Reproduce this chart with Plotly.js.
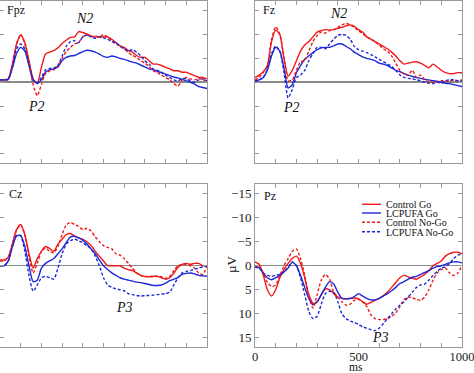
<!DOCTYPE html>
<html>
<head>
<meta charset="utf-8">
<script src="https://cdn.plot.ly/plotly-3.0.1.min.js"></script>
<style>html,body{margin:0;padding:0;background:#fff;}#chart{width:474px;height:373px;}</style>
</head>
<body>
<div id="chart"></div>
<script>
// time axis (ms)
const t = [];
for (let i = 0; i <= 50; i++) t.push(i * 20);

const seriesNames = ["Control Go", "LCPUFA Go", "Control No-Go", "LCPUFA No-Go"];
const channels = ["Fpz", "Fz", "Cz", "Pz"];
const yTicks = [-15, -10, -5, 0, 5, 10, 15];
const xTickLabels = {0: "0", 500: "500", 1000: "1000"};

// Fpz (µV)
const fpzCG = [-0.5,-0.5,-0.7,-3.8,-8,-9.9,-8.3,-4.5,-0.7,0.3,-3.1,-5.9,-6.3,-6.6,-7.2,-8.1,-8.8,-9.4,-9.5,-10.6,-10.4,-10.1,-9.7,-9.5,-9.4,-9.5,-9.5,-9,-8.3,-7.6,-7.3,-6.6,-6.3,-5.6,-5.2,-5.2,-4.5,-3.8,-3.8,-3.5,-3.1,-2.8,-2.4,-2.4,-2.1,-2.1,-1.7,-1.4,-1,-1,-0.7];
const fpzLG = [-0.5,-0.5,-0.6,-3,-6,-7.3,-6.5,-3.5,-0.5,0.2,-0.5,-2.1,-2.6,-2.8,-3.2,-4.5,-5.2,-5.5,-5.6,-6,-6.4,-6.7,-6.6,-6.3,-5.9,-5.4,-5.2,-5.5,-5.3,-5,-4.8,-4.5,-4.2,-4,-3.6,-3.2,-2.8,-2.6,-2.3,-2,-1.7,-1.4,-1.1,-0.9,-0.6,-0.3,0,0.4,0.9,1.1,1.3];
const fpzCN = [-0.5,-0.5,-0.7,-3.5,-8,-10,-8,-4,0.5,2.8,0.5,-1.8,-2.4,-2.6,-3.5,-5,-6.4,-7.3,-8,-8.3,-9.5,-9.9,-9.5,-9.7,-9.5,-9.9,-9.5,-8.7,-8,-7.6,-7,-6.2,-5.6,-5.2,-4.5,-4,-3.3,-2.4,-2,-1.5,-1,-0.5,0.3,0.8,-0.5,-1,-0.7,-0.5,-0.8,-0.5,-0.3];
const fpzLN = [-0.5,-0.5,-0.6,-3.2,-7,-8,-7,-3.8,-0.5,0.3,-1,-2.6,-2.9,-3,-3.5,-5.5,-7.5,-8.5,-8.7,-8.3,-9.5,-9.9,-9.5,-9.2,-9.5,-9.3,-9,-8.5,-8.3,-7.5,-7,-6.6,-6.8,-6.3,-5.5,-4.5,-3.8,-2.8,-2.5,-2.1,-1.5,-1,-0.5,-0.3,-0.8,-0.7,-0.3,0,-0.5,-0.7,-0.3];

// Fz (µV)
const fzCG = [-1,-1.5,-2.2,-3.5,-8.5,-10.9,-10,-5,-1.3,-2.5,-4.5,-6.5,-7.8,-8.5,-9.5,-10.5,-10.8,-11,-10.9,-11,-11.3,-11.5,-11.8,-12,-11.7,-11,-10.5,-9.5,-9,-8.5,-8,-7.5,-7,-6.3,-5.5,-4.5,-3.8,-4,-4.2,-4.3,-4,-3.5,-3,-3.8,-3.2,-2.5,-2,-1.8,-1.8,-2,-2];
const fzLG = [-0.3,-0.5,-1,-2.5,-5.5,-7.3,-6.5,-3,1.2,0.5,-2,-3.5,-4.8,-5.5,-6.2,-6.8,-7.2,-7.3,-7.3,-7.6,-8,-8,-7.5,-7,-6.3,-5.8,-5.3,-5,-4.8,-4.5,-4,-3.8,-3.5,-3,-2.5,-2.2,-1.8,-1.5,-1.2,-1,-0.8,-0.6,-0.5,-0.3,-0.2,0,0.2,0.3,0.5,0.7,0.9];
const fzCN = [-0.5,-1,-2,-3.5,-9,-11.6,-10,-5,-0.3,-0.5,-2.5,-4.3,-4.5,-6.5,-8.5,-9.8,-10.5,-10.3,-10.8,-11,-11.5,-12,-12.3,-12,-11.5,-10.8,-10.2,-9.5,-9,-8.5,-7.8,-7,-6.5,-5.5,-4,-2.5,-1.7,-1.5,-2.5,-1,-1.5,-0.5,0,0,0,-0.3,-0.3,-0.2,-0.5,-0.3,-0.5];
const fzLN = [0,-0.5,-1,-2.8,-6,-7.6,-6.5,-2,3.3,1.5,-1,-1.5,-2.5,-4.5,-6,-7.3,-7.3,-7,-8,-9,-9.8,-10,-9.8,-9,-7.5,-6.8,-6.5,-6.2,-5.8,-5.3,-4.8,-4.3,-3.8,-3.3,-2.5,-1.5,-1,-0.8,-0.7,-0.5,-0.3,0,0.2,0.3,0,0.2,-0.3,-0.5,-0.5,-0.3,-0.3];

// Cz (µV)
const czCG = [-1.2,-1.2,-1.8,-4.5,-7.5,-8.6,-6.5,-2.5,0.5,-1.5,-3,-4,-3.6,-3,-4.5,-5.5,-6.5,-6.7,-6.2,-5.8,-5.5,-5,-4.2,-3,-2,-1,0,0,0,0,0.5,0.8,1,1.5,2,2.2,2.3,2.2,2.2,2.5,2.8,2.5,1.5,0.3,-0.3,-0.5,-0.3,-0.5,-0.5,0,0];
const czLG = [0,0,-1,-4,-6.2,-6.3,-4,0,3.3,3,0.5,-0.5,-1,-1.5,-2.5,-3.5,-4.8,-6,-6.1,-5.8,-5.3,-4.5,-3.5,-2.5,-1.2,0,0.8,1.5,2,2.5,2.8,3,3.2,3.4,3.5,3.7,3.9,4.1,4.1,4,3.6,3.1,2.8,2.4,1.8,1.6,1.5,1.7,2,2.1,2.2];
const czCN = [-1,-1,-1.8,-4.5,-7.5,-8.5,-6.3,-2,1.5,-0.5,-3,-3.7,-3,-2.7,-4,-6.5,-8.5,-9,-8.6,-8.2,-7.5,-7.8,-7.2,-6,-5,-4.2,-3.8,-3.5,-2.5,-2.2,-1.5,-0.5,0.5,1.5,2,2.3,2.2,2.3,2.2,2.3,2.6,2.2,1,0,-0.3,-0.2,0,0.5,1.5,1.8,0];
const czLN = [0,0,-1,-4,-6.3,-6.2,-3,2,5.3,4,2.5,2.2,2.5,2.8,0.5,-2.5,-4.5,-5.2,-5.5,-5.2,-4.8,-4.2,-3.5,-2,0,2.5,4,4.5,4.8,5,5.2,5.8,6,6.2,6.3,6.2,6.2,6.1,6,5.9,5.8,5.5,4,2.5,1.5,1.2,1,0.7,0.5,0.2,0];

// Pz (µV)
const pzCG = [-0.8,-0.3,2,5,6.3,5,2.5,0.8,-0.5,-1.5,-2,-0.5,2.5,6,7.8,7.6,6,4.8,5,5.8,6.5,6.8,6.9,6.8,6.7,6.9,7.5,8,7.6,7.2,6.8,6.2,5.5,4.5,3.5,2.5,2,2.3,2.6,2.8,2.3,1.8,1,0,-0.5,-1,-2,-2.5,-2.8,-2.8,-2.5];
const pzLG = [0.2,0.4,1.5,2.5,2.9,2.5,2,1.3,0.5,-0.7,0,2,4.5,6.8,8.1,7.5,6,4.5,3.3,3.8,5.5,6.8,6.9,6.8,6.4,5.8,6.3,6.8,7.1,7.1,6.8,6.3,5.8,5.2,4.5,3.7,3.3,2.8,2.4,2.2,1.8,1.4,1,0.5,0.2,0,-0.3,-0.6,-0.8,-0.8,-0.6];
const pzCN = [0.2,0,1.5,3.5,4.3,4,2,0,-1.5,-3,-3.5,-1.5,2,6.5,8.8,6,3,1.8,2.8,5.5,6.5,7.5,8.2,8,7.2,7,7.5,8.5,10.2,11,11.2,11.2,11,10.5,9.8,8.5,7,6.5,6.7,7,7.2,6.5,5,3,1.5,0.8,0.5,1.5,2,1.5,0];
const pzLN = [0.3,0.5,1.5,2,2.2,2,1.8,1.2,0.3,-0.8,0,2.5,6,9.5,11,10.5,8,5.8,5.3,5.5,7.5,10,11,11.5,11.8,12.2,12.7,13,13.3,13.5,13,12,11,10,9,8.2,7.5,6.5,5.5,4.5,4,3.8,3,2,1.2,0.5,0.2,-0.5,-1.5,-2.2,-2.4];

const data = {
  Fpz: [fpzCG, fpzLG, fpzCN, fpzLN],
  Fz: [fzCG, fzLG, fzCN, fzLN],
  Cz: [czCG, czLG, czCN, czLN],
  Pz: [pzCG, pzLG, pzCN, pzLN]
};

const W = 474, H = 373;
const px = x => x / W;
const py = y => 1 - y / H;

const RED = "#f01818", BLUE = "#1c28d8";
const styles = [
  {color: RED, dash: "solid"},
  {color: BLUE, dash: "solid"},
  {color: RED, dash: "3px,2px"},
  {color: BLUE, dash: "3px,2px"}
];

const traces = [];
channels.forEach((ch, ci) => {
  const sfx = ci === 0 ? "" : String(ci + 1);
  data[ch].forEach((vals, si) => {
    traces.push({
      x: t, y: vals, type: "scatter", mode: "lines",
      name: seriesNames[si], showlegend: false,
      xaxis: "x" + sfx, yaxis: "y" + sfx,
      line: {color: styles[si].color, dash: styles[si].dash, width: 1.4, shape: "spline", smoothing: 0.6},
      hoverinfo: "skip"
    });
  });
});

const serif = "Liberation Serif";
const frame = "#9a9a9a";
const xDom = [[px(0), px(207)], [px(255), px(462)]];
const yDom = [[py(163), py(1)], [py(347), py(184)]];
const xTickVals = [];
for (let v = 0; v <= 1000; v += 100) xTickVals.push(v);

function xa(col, labels) {
  return {
    domain: xDom[col], range: [0, 1000], showgrid: false, zeroline: false,
    showline: true, mirror: "ticks", linecolor: frame, linewidth: 1,
    ticks: "inside", ticklen: 4, tickcolor: frame,
    tickvals: xTickVals, ticktext: xTickVals.map(v => xTickLabels[v] || ""),
    showticklabels: labels, ticklabeloverflow: "allow", ticklabelstandoff: -2,
    tickfont: {family: serif, size: 12.5, color: "#222"}
  };
}
function ya(row, labels, anchor) {
  return {
    domain: yDom[row], range: [16.9, -17], showgrid: false,
    zeroline: true, zerolinecolor: "#8a8a8a", zerolinewidth: 1.5,
    showline: true, mirror: "ticks", linecolor: frame, linewidth: 1,
    ticks: "inside", ticklen: 4, tickcolor: frame,
    tickvals: yTicks, showticklabels: labels, anchor: anchor, ticklabeloverflow: "allow",
    tickfont: {family: serif, size: 13, color: "#222"}
  };
}

const ann = [];
function label(text, x, y, size, italic, extra) {
  ann.push(Object.assign({
    text: italic ? "<i>" + text + "</i>" : text, xref: "paper", yref: "paper",
    x: px(x), y: py(y), showarrow: false, xanchor: "center", yanchor: "middle",
    font: {family: serif, size: size, color: "#111"}
  }, extra || {}));
}
label(channels[0], 16, 10, 12, false);
label(channels[1], 269, 10, 12, false);
label(channels[2], 15, 194, 12, false);
label(channels[3], 270, 196, 12, false);
label("N2", 84, 18, 14, true);
label("P2", 36, 107, 14, true);
label("N2", 338, 13, 14, true);
label("P2", 291, 108, 14, true);
label("P3", 124, 307, 14, true);
label("P3", 380, 337, 14, true);
label("µV", 231, 265, 13, false, {textangle: -90});
ann.push({text: "ms", xref: "paper", yref: "paper", x: px(356), y: 0, showarrow: false,
  xanchor: "center", yanchor: "bottom", yshift: -1, borderpad: 0,
  font: {family: serif, size: 11.5, color: "#111"}});

// manual legend
const legY = [204.3, 213, 222.3, 231.7];
const shapes = [];
seriesNames.forEach((nm, i) => {
  shapes.push({type: "line", xref: "paper", yref: "paper",
    x0: px(362), x1: px(381), y0: py(legY[i]), y1: py(legY[i]),
    line: {color: styles[i].color, dash: styles[i].dash, width: 1.4}});
  ann.push({text: nm, xref: "paper", yref: "paper", x: px(385), y: py(legY[i] + 0.3),
    showarrow: false, xanchor: "left", yanchor: "middle", borderpad: 0,
    font: {family: serif, size: 10, color: "#111"}});
});

const layout = {
  width: W, height: H, margin: {l: 0, r: 0, t: 0, b: 0},
  paper_bgcolor: "#fff", plot_bgcolor: "#fff", showlegend: false,
  xaxis: Object.assign(xa(0, false), {anchor: "y"}), yaxis: ya(0, false, "x"),
  xaxis2: Object.assign(xa(1, false), {anchor: "y2"}), yaxis2: ya(0, false, "x2"),
  xaxis3: Object.assign(xa(0, false), {anchor: "y3"}), yaxis3: ya(1, false, "x3"),
  xaxis4: Object.assign(xa(1, true), {anchor: "y4"}), yaxis4: ya(1, true, "x4"),
  annotations: ann, shapes: shapes
};

Plotly.newPlot("chart", traces, layout, {staticPlot: true, displayModeBar: false});
</script>
</body>
</html>
